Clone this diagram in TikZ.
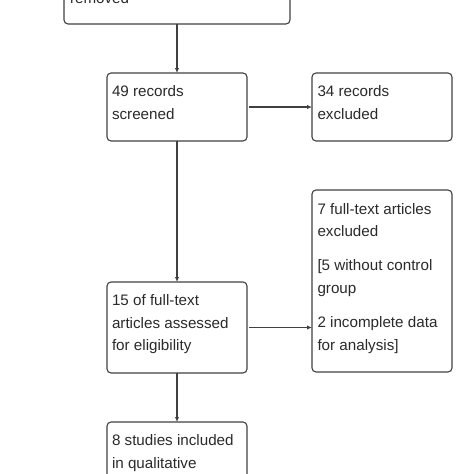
\documentclass[tikz,border=0pt]{standalone}
\usepackage{fontspec}
\setmainfont{Liberation Sans}
\usetikzlibrary{arrows.meta}
\definecolor{linecol}{HTML}{404040}
\definecolor{txtcol}{HTML}{2A2A2A}
\newcommand\lnstrut{\rule{0pt}{12pt}}
\begin{document}
\begin{tikzpicture}[x=1pt,y=-1pt,
  box/.style={draw=linecol,line width=1.1pt,rounded corners=4pt,inner sep=0pt,outer sep=0pt,rectangle},
  txt/.style={anchor=north west,inner sep=0pt,outer sep=0pt,align=left,text=txtcol,font={\fontsize{15.2pt}{22.6pt}\selectfont}},
  arr/.style={draw=linecol,line width=1.1pt,-{Latex[length=5pt,width=4.5pt]}}]
\useasboundingbox (0,0) rectangle (474,474);
\clip (0,0) rectangle (474,474);
% boxes
\node[box,minimum width=226pt,minimum height=84pt] (b0) at (177,-18) {};
\node[box,minimum width=140pt,minimum height=68pt] (b1) at (177,107) {};
\node[box,minimum width=140pt,minimum height=68pt] (b2) at (382,107) {};
\node[box,minimum width=140pt,minimum height=91pt] (b3) at (177,327.5) {};
\node[box,minimum width=140pt,minimum height=182pt] (b4) at (382,281) {};
\node[box,minimum width=140pt,minimum height=88pt] (b5) at (177,466) {};
% texts
\node[txt,anchor=base west] (t0) at (70,3) {removed};
\node[txt] (t1) at (112,84.7) {\lnstrut 49 records\\screened};
\node[txt] (t2) at (317.5,84.7) {\lnstrut 34 records\\excluded};
\node[txt] (t3) at (112,293.5) {\lnstrut 15 of full-text\\articles assessed\\for eligibility};
\node[txt] (t4) at (317.5,202) {\lnstrut 7 full-text articles\\excluded\\[11.5pt][5 without control\\group\\[11.5pt]2 incomplete data\\for analysis]};
\node[txt] (t5) at (112,433.5) {\lnstrut 8 studies included\\in qualitative};
% connectors
\draw[arr] (b0.south) -- (b1.north);
\draw[arr,shorten <=2pt] (b1.east) -- (b2.west);
\draw[arr] (b1.south) -- (b3.north);
\draw[arr,shorten <=2pt] (b3.east) -- (b4.west |- b3.east);
\draw[arr] (b3.south) -- (b5.north);
\end{tikzpicture}
\end{document}
